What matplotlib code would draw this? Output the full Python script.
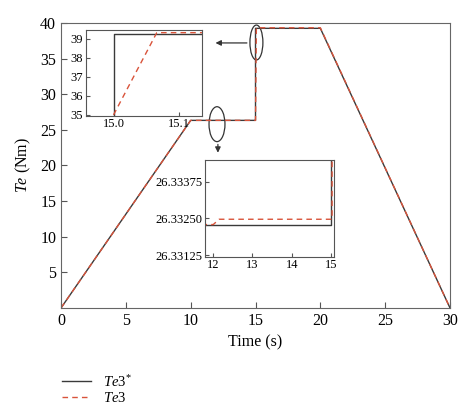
import numpy as np
import matplotlib
matplotlib.use("Agg")
from matplotlib import pyplot as plt
from matplotlib.patches import Ellipse

plt.rcParams['font.family'] = ['Liberation Serif', 'DejaVu Serif']
plt.rcParams['mathtext.fontset'] = 'custom'
plt.rcParams['mathtext.rm'] = 'Liberation Serif'
plt.rcParams['mathtext.it'] = 'Liberation Serif:italic'

# main curve: reference torque Te3* and measured Te3
t_ref = [0, 10, 15, 15, 20, 30]
te_ref = [0, 26.33229, 26.33229, 39.25, 39.25, 0]
t_meas = [0, 10, 12.0, 12.15, 15.0, 15.066, 20, 30]
te_meas = [0, 26.33229, 26.33229, 26.33247, 26.33247, 39.33, 39.33, 0]

# zoom 1 (step at 15 s)
z1_t_ref = [14.9, 15.0, 15.0, 15.2]
z1_te_ref = [26.33, 26.33, 39.25, 39.25]
z1_t_meas = [15.0, 15.066, 15.2]
z1_te_meas = [35.0, 39.33, 39.33]

# zoom 2 (plateau 12-15 s)
z2_t_ref = [11.7, 15.0, 15.0]
z2_te_ref = [26.33229, 26.33229, 26.34]
z2_t_meas = [11.7, 12.0, 12.15, 15.03, 15.03]
z2_te_meas = [26.33229, 26.33229, 26.33247, 26.33247, 26.34]

black = '#3a3a3a'
red = '#d9533a'

fig = plt.figure(figsize=(4.74, 4.18), dpi=100)
ax = fig.add_axes([0.1287, 0.2632, 0.8207, 0.6818])
l1, = ax.plot(t_ref, te_ref, color=black, lw=1.0)
l2, = ax.plot(t_meas, te_meas, color=red, lw=1.0, ls=(0, (4, 3)))
ax.set_xlim(0, 30)
ax.set_ylim(0, 40)
ax.set_xticks([0, 5, 10, 15, 20, 25, 30])
ax.set_yticks([5, 10, 15, 20, 25, 30, 35, 40])
ax.tick_params(direction='in', labelsize=11.5, color='#555555', length=4)
ax.set_xlabel('Time (s)', fontsize=11.5)
ax.set_ylabel('$Te$ (Nm)', fontsize=11.5)
ax.yaxis.set_label_coords(-0.072, 0.5)
for s in ax.spines.values():
    s.set_color('#666666')

# annotation ellipses and arrows
ax.add_patch(Ellipse((15.07, 37.26), 1.0, 4.9, fill=False, ec='#333333', lw=0.9))
ax.annotate('', xy=(11.7, 37.2), xytext=(14.55, 37.2),
            arrowprops=dict(arrowstyle='-|>', color='#333333', lw=0.9, mutation_scale=8))
ax.add_patch(Ellipse((12.03, 25.8), 1.23, 4.9, fill=False, ec='#333333', lw=0.9))
ax.annotate('', xy=(12.1, 21.4), xytext=(12.1, 23.35),
            arrowprops=dict(arrowstyle='-|>', color='#333333', lw=0.9, mutation_scale=8))

# inset 1
ins1 = fig.add_axes([0.1814, 0.7232, 0.2441, 0.2050])
ins1.plot(z1_t_ref, z1_te_ref, color=black, lw=1.0)
ins1.plot(z1_t_meas, z1_te_meas, color=red, lw=1.0, ls=(0, (4, 3)))
ins1.set_xlim(14.958, 15.1345)
ins1.set_ylim(34.96, 39.47)
ins1.set_xticks([15.0, 15.1])
ins1.set_xticklabels(['15.0', '15.1'])
ins1.set_yticks([35, 36, 37, 38, 39])
ins1.tick_params(direction='in', labelsize=9, pad=2, length=3, color='#555555')
for s in ins1.spines.values():
    s.set_color('#555555')

# inset 2
ins2 = fig.add_axes([0.4325, 0.3859, 0.2722, 0.2313])
ins2.plot(z2_t_ref, z2_te_ref, color=black, lw=1.0)
ins2.plot(z2_t_meas, z2_te_meas, color=red, lw=1.0, ls=(0, (4, 3)))
ins2.set_xlim(11.79, 15.08)
ins2.set_ylim(26.3312, 26.33448)
ins2.set_xticks([12, 13, 14, 15])
ins2.set_yticks([26.33125, 26.3325, 26.33375])
ins2.set_yticklabels(['26.33125', '26.33250', '26.33375'])
ins2.tick_params(direction='in', labelsize=9, pad=2, length=3, color='#555555')
for s in ins2.spines.values():
    s.set_color('#555555')

fig.legend([l1, l2], ['$Te3^{*}$', '$Te3$'], loc='upper left',
           bbox_to_anchor=(0.118, 0.12), frameon=False, fontsize=10.5,
           handlelength=2.0, labelspacing=0.1, borderaxespad=0)

fig.savefig('out.png', dpi=100)
